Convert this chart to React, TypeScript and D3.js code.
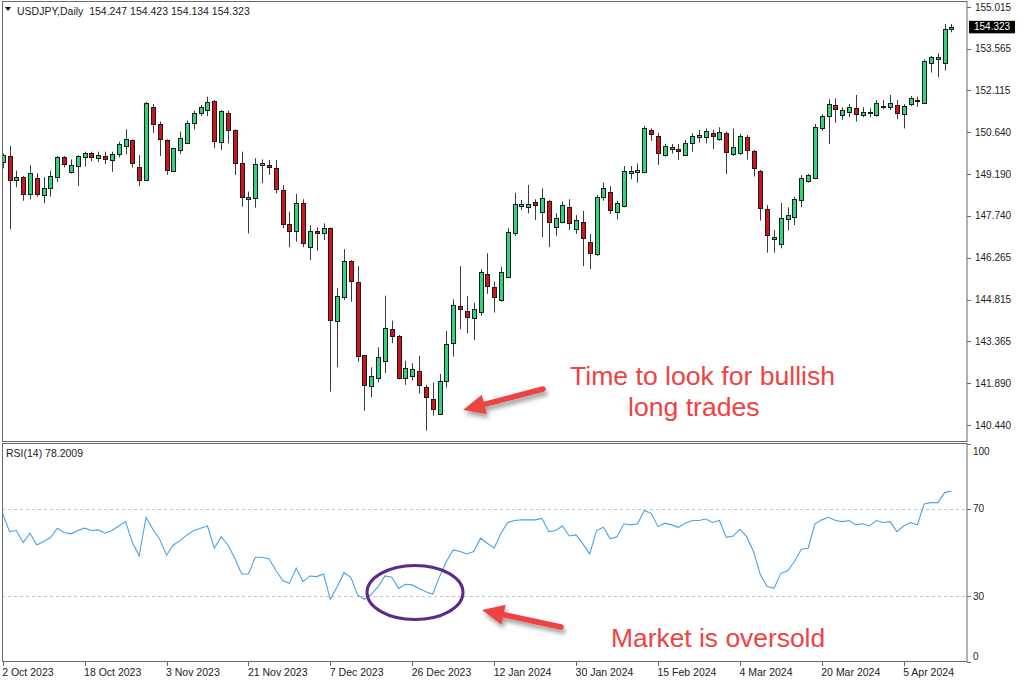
import React from 'react';
import * as d3 from 'd3';

// USDJPY daily, 2 Oct 2023 .. 16 Apr 2024
const open = [
  149.62, 149.82, 148.98, 149.10, 148.48, 149.06, 148.46, 148.69, 149.10, 149.77,
  149.27, 149.47, 149.80, 149.91, 149.74, 149.81, 149.68, 149.89, 150.17, 150.38,
  149.45, 149.00, 151.54, 150.93, 150.38, 149.30, 150.03, 150.28, 150.96, 151.31,
  151.42, 151.73, 150.32, 151.31, 150.73, 149.56, 148.32, 148.34, 149.51, 149.52,
  149.39, 148.63, 147.45, 147.22, 148.17, 146.66, 147.19, 147.12, 147.30, 144.08,
  144.89, 146.16, 145.44, 142.88, 141.81, 142.07, 142.68, 143.79, 143.56, 142.07,
  142.15, 142.32, 141.78, 141.34, 140.81, 141.99, 143.29, 144.60, 144.42, 144.16,
  144.39, 145.71, 145.26, 144.80, 145.61, 147.15, 148.08, 148.03, 148.23, 147.88,
  148.26, 147.33, 147.53, 148.05, 147.26, 147.53, 146.83, 146.40, 148.38, 148.58,
  147.86, 148.08, 149.24, 149.27, 149.25, 150.73, 150.52, 149.84, 150.05, 150.05,
  149.85, 150.29, 150.49, 150.47, 150.61, 150.40, 150.61, 149.89, 149.91, 150.47,
  149.99, 149.31, 147.96, 146.94, 146.75, 147.61, 147.70, 148.29, 148.96, 149.04,
  150.78, 151.22, 151.59, 151.25, 151.37, 151.48, 151.25, 151.33, 151.25, 151.58,
  151.52, 151.60, 151.27, 151.63, 151.75, 151.68, 153.07, 153.19, 153.05, 154.247,
];
const high = [
  149.91, 150.17, 149.31, 149.12, 149.50, 149.22, 149.08, 149.31, 149.82, 149.82,
  149.70, 149.85, 149.97, 149.97, 149.97, 149.97, 149.97, 150.32, 150.75, 150.40,
  149.85, 151.71, 151.63, 151.02, 150.40, 150.09, 150.67, 151.05, 151.40, 151.60,
  151.89, 151.77, 151.42, 151.40, 150.75, 149.97, 148.58, 149.74, 149.70, 149.68,
  149.68, 148.81, 147.88, 148.50, 148.31, 147.41, 147.33, 147.47, 147.33, 145.21,
  146.57, 146.19, 145.98, 142.88, 142.45, 143.15, 144.95, 144.08, 143.58, 142.68,
  142.59, 142.85, 141.84, 141.92, 142.22, 143.73, 144.82, 145.98, 144.94, 144.70,
  145.87, 146.43, 145.44, 145.96, 147.30, 148.54, 148.29, 148.81, 148.31, 148.69,
  148.29, 147.82, 148.23, 148.31, 147.76, 147.91, 147.10, 148.46, 148.89, 148.77,
  148.26, 149.47, 149.47, 149.56, 150.87, 150.78, 150.63, 150.24, 150.24, 150.24,
  150.38, 150.61, 150.73, 150.78, 150.73, 150.82, 150.67, 150.78, 150.59, 150.55,
  150.03, 149.33, 148.11, 147.24, 148.19, 148.03, 148.40, 149.16, 149.19, 150.94,
  151.28, 151.80, 151.83, 151.52, 151.63, 151.95, 151.52, 151.48, 151.77, 151.77,
  151.95, 151.77, 151.63, 151.91, 151.89, 153.19, 153.31, 153.40, 154.42, 154.423,
];
const low = [
  149.39, 147.26, 148.73, 148.26, 148.31, 148.40, 148.17, 148.40, 148.92, 149.42,
  149.21, 148.77, 149.45, 149.64, 149.61, 149.54, 149.27, 149.77, 149.89, 149.42,
  148.77, 148.98, 150.63, 149.82, 149.16, 149.27, 149.89, 150.26, 150.75, 151.21,
  151.21, 150.09, 150.03, 150.26, 149.16, 148.05, 147.12, 148.02, 148.87, 149.16,
  148.52, 147.30, 146.64, 146.83, 146.64, 146.19, 146.52, 146.89, 141.60, 142.45,
  144.80, 144.74, 142.65, 140.94, 141.41, 141.93, 142.24, 143.29, 142.03, 141.84,
  141.99, 141.54, 140.24, 140.77, 140.79, 141.75, 142.82, 143.78, 143.64, 143.40,
  144.25, 145.01, 144.36, 144.74, 145.59, 147.03, 147.94, 147.82, 147.59, 146.98,
  146.64, 147.04, 147.47, 147.24, 147.10, 145.98, 145.87, 146.33, 148.26, 147.80,
  147.61, 148.03, 149.01, 148.89, 149.22, 150.35, 149.51, 149.80, 149.91, 149.68,
  149.82, 149.97, 150.29, 150.26, 150.05, 150.35, 149.19, 149.82, 149.86, 149.70,
  149.10, 147.57, 146.45, 146.45, 146.60, 147.22, 147.41, 148.03, 148.89, 149.01,
  150.70, 150.24, 150.98, 151.08, 151.17, 151.02, 151.17, 151.17, 151.19, 151.45,
  151.42, 151.10, 150.78, 151.56, 151.54, 151.66, 152.73, 152.56, 152.80, 154.134,
];
const close = [
  149.85, 149.00, 149.10, 148.49, 149.24, 148.48, 148.71, 149.13, 149.80, 149.54,
  149.51, 149.82, 149.91, 149.77, 149.84, 149.70, 149.89, 150.24, 150.40, 149.59,
  149.00, 151.68, 150.92, 150.40, 149.33, 150.09, 150.43, 150.98, 151.33, 151.52,
  151.70, 150.35, 151.38, 150.73, 149.56, 148.38, 148.40, 149.54, 149.59, 149.43,
  148.66, 147.45, 147.21, 148.19, 146.80, 147.22, 147.12, 147.30, 144.10, 144.95,
  146.16, 145.46, 142.86, 141.84, 142.16, 142.80, 143.81, 143.54, 142.07, 142.42,
  142.38, 141.84, 141.41, 140.99, 141.99, 143.25, 144.62, 144.50, 144.22, 144.47,
  145.76, 145.29, 144.89, 145.76, 147.18, 148.15, 148.15, 148.15, 148.11, 148.34,
  147.53, 147.67, 148.11, 147.50, 147.59, 146.95, 146.43, 148.38, 148.69, 147.94,
  148.17, 149.31, 149.30, 149.33, 150.78, 150.59, 149.91, 150.17, 150.12, 150.01,
  150.29, 150.52, 150.55, 150.70, 150.52, 150.67, 149.97, 150.12, 150.52, 150.03,
  149.39, 147.99, 147.07, 146.98, 147.67, 147.76, 148.31, 149.04, 149.16, 150.84,
  151.23, 151.62, 151.45, 151.42, 151.54, 151.28, 151.37, 151.37, 151.66, 151.54,
  151.68, 151.33, 151.56, 151.83, 151.77, 153.14, 153.26, 153.26, 154.24, 154.323,
];
const rsi = [
  68.0, 59.6, 60.1, 54.6, 58.9, 53.5, 55.1, 56.9, 61.2, 59.2,
  58.6, 60.1, 61.2, 60.1, 60.4, 58.9, 60.1, 62.2, 64.2, 54.6,
  48.5, 66.2, 60.7, 56.1, 48.8, 53.5, 55.5, 58.1, 60.1, 61.2,
  62.2, 52.0, 57.3, 53.5, 47.4, 40.2, 40.2, 47.9, 47.9, 47.2,
  42.0, 37.2, 35.9, 42.8, 36.7, 39.3, 39.0, 40.2, 28.6, 34.4,
  40.8, 38.7, 30.6, 28.6, 30.9, 34.4, 39.3, 38.7, 33.6, 35.5,
  35.2, 33.6, 32.1, 30.9, 39.0, 45.9, 51.2, 50.5, 49.4, 50.5,
  56.6, 54.3, 52.0, 58.9, 63.8, 64.7, 65.0, 65.0, 65.0, 65.7,
  59.6, 60.1, 62.2, 57.6, 58.1, 54.0, 49.4, 60.1, 61.6, 56.3,
  57.3, 63.2, 62.7, 63.2, 69.3, 68.0, 61.9, 63.5, 62.7, 61.6,
  63.5, 64.7, 64.7, 65.4, 63.8, 64.7, 57.0, 57.6, 60.7, 57.3,
  50.5, 39.8, 34.4, 33.6, 40.5, 41.7, 45.9, 51.5, 52.0, 63.2,
  65.0, 66.2, 64.7, 64.2, 64.7, 62.7, 63.2, 62.2, 64.7, 63.8,
  64.2, 59.6, 62.2, 63.8, 62.7, 72.3, 72.9, 72.9, 77.5, 78.2,
];

const dateLabels = ['2 Oct 2023', '18 Oct 2023', '3 Nov 2023', '21 Nov 2023', '7 Dec 2023', '26 Dec 2023',
  '12 Jan 2024', '30 Jan 2024', '15 Feb 2024', '4 Mar 2024', '20 Mar 2024', '5 Apr 2024'];
const dateBars = [0, 12, 24, 36, 48, 60, 72, 84, 96, 108, 120, 132];
const priceTicks = [155.015, 153.565, 152.115, 150.640, 149.190, 147.740, 146.265, 144.815, 143.365, 141.890, 140.440];
const rsiTicks = [100, 70, 30, 0];
const rsiLevels = [70, 30];

const font = '"Liberation Sans", Arial, sans-serif';
const red = '#ef4242';

function Arrow({ x1, y1, x2, y2 }: { x1: number; y1: number; x2: number; y2: number }) {
  // x1,y1 = tail, x2,y2 = tip
  const dx = x2 - x1, dy = y2 - y1;
  const len = Math.hypot(dx, dy);
  const ux = dx / len, uy = dy / len;
  const hl = 22, hw = 10;
  const bx = x2 - ux * hl, by = y2 - uy * hl;
  const head = [[x2, y2], [bx - uy * hw, by + ux * hw], [bx + uy * hw, by - ux * hw]];
  return (
    <g filter="url(#shadow)">
      <line x1={x1} y1={y1} x2={bx + ux * 2} y2={by + uy * 2} stroke={red} strokeWidth={5.5} strokeLinecap="round" />
      <polygon points={head.map((p) => p.join(',')).join(' ')} fill={red} />
    </g>
  );
}

export default function App() {
  const x = d3.scaleLinear().domain([0, 132]).range([2.7, 903.7]);
  const y = d3.scaleLinear().domain([140.44, 155.015]).range([425, 7]);
  const ry = d3.scaleLinear().domain([0, 100]).range([661.7, 443.5]);
  const right = 967;

  const rsiLine = d3.line<number>().x((d, i) => x(i)).y((d) => ry(d));
  const lastClose = close[close.length - 1];

  return (
    <div style={{ position: 'fixed', left: 0, top: 0, background: '#fff' }}>
      <svg width={1024} height={683} style={{ display: 'block', fontFamily: font }}>
        <defs>
          <clipPath id="main-clip"><rect x={2} y={2} width={right - 2} height={439} /></clipPath>
          <clipPath id="rsi-clip"><rect x={2} y={444} width={right - 2} height={217} /></clipPath>
          <filter id="shadow" x="-20%" y="-50%" width="140%" height="200%">
            <feDropShadow dx={2} dy={4} stdDeviation={2.2} floodColor="#555" floodOpacity={0.55} />
          </filter>
        </defs>
        <rect width={1024} height={683} fill="#fff" />

        {/* candles */}
        <g clipPath="url(#main-clip)">
          {close.map((c, i) => {
            const o = open[i];
            const cx = Math.round(x(i)) + 0.5;
            const up = c >= o;
            const top = Math.round(y(Math.max(o, c))) + 0.5;
            const bot = Math.round(y(Math.min(o, c))) + 0.5;
            return (
              <g key={i}>
                <line x1={cx} x2={cx} y1={y(high[i])} y2={y(low[i])} stroke="#3c3c3c" strokeWidth={1} />
                <rect x={cx - 2} y={top} width={4} height={Math.max(1, bot - top)}
                  fill={up ? '#2fd47c' : '#d0151a'} stroke="#1a1a1a" strokeWidth={1} shapeRendering="crispEdges" />
              </g>
            );
          })}
        </g>

        {/* RSI */}
        <g clipPath="url(#rsi-clip)">
          {rsiLevels.map((v) => (
            <line key={v} x1={2} x2={right} y1={Math.round(ry(v)) + 0.5} y2={Math.round(ry(v)) + 0.5}
              stroke="#c4c4c4" strokeDasharray="3,3" />
          ))}
          <path d={rsiLine(rsi) || ''} fill="none" stroke="#4aa2e6" strokeWidth={1.1} />
        </g>

        {/* frames */}
        <rect x={2.5} y={1.5} width={right - 2.5} height={440} fill="none" stroke="#6a6a6a" />
        <rect x={2.5} y={443.5} width={right - 2.5} height={218} fill="none" stroke="#6a6a6a" />

        {/* price axis */}
        {priceTicks.map((p) => (
          <g key={p}>
            <line x1={right} x2={right + 4} y1={Math.round(y(p)) + 0.5} y2={Math.round(y(p)) + 0.5} stroke="#6a6a6a" />
            <text x={975} y={y(p)} dy="0.35em" fontSize={10} fill="#222">{p.toFixed(3)}</text>
          </g>
        ))}
        <rect x={969} y={y(lastClose) - 6} width={46} height={12.5} fill="#000" />
        <text x={974} y={y(lastClose)} dy="0.35em" fontSize={10} fill="#fff">{lastClose.toFixed(3)}</text>

        {/* RSI axis */}
        {rsiTicks.map((v) => {
          const ty = Math.min(656, Math.max(451, ry(v)));
          return (
            <g key={v}>
              <line x1={right} x2={right + 4} y1={Math.round(ry(v)) + 0.5} y2={Math.round(ry(v)) + 0.5} stroke="#6a6a6a" />
              <text x={973} y={ty} dy="0.35em" fontSize={10} fill="#222">{v}</text>
            </g>
          );
        })}

        {/* date axis */}
        {dateBars.map((b, k) => (
          <g key={b}>
            <line x1={Math.round(x(b)) + 0.5} x2={Math.round(x(b)) + 0.5} y1={662} y2={666} stroke="#6a6a6a" />
            <text x={x(b) - 0.5} y={676} fontSize={10.5} fill="#222">{dateLabels[k]}</text>
          </g>
        ))}

        {/* headers */}
        <path d="M5,7 L11,7 L8,11 Z" fill="#111" />
        <text x={17} y={15} fontSize={10.5} fill="#222" xmlSpace="preserve">USDJPY,Daily  {open[open.length - 1].toFixed(3)} {high[high.length - 1].toFixed(3)} {low[low.length - 1].toFixed(3)} {lastClose.toFixed(3)}</text>
        <text x={6} y={457} fontSize={10.5} fill="#222">RSI(14) 78.2009</text>

        {/* annotations */}
        <text x={570} y={385} fontSize={26.6} fill={red}>Time to look for bullish</text>
        <text x={628} y={416} fontSize={26.6} fill={red}>long trades</text>
        <text x={611} y={647} fontSize={26.4} fill={red}>Market is oversold</text>
        <Arrow x1={543} x2={463} y1={389} y2={410} />
        <Arrow x1={561} x2={482} y1={627} y2={610} />
        <ellipse cx={415} cy={592.5} rx={48} ry={27} fill="none" stroke="#5a2a8c" strokeWidth={3} />
      </svg>
    </div>
  );
}
